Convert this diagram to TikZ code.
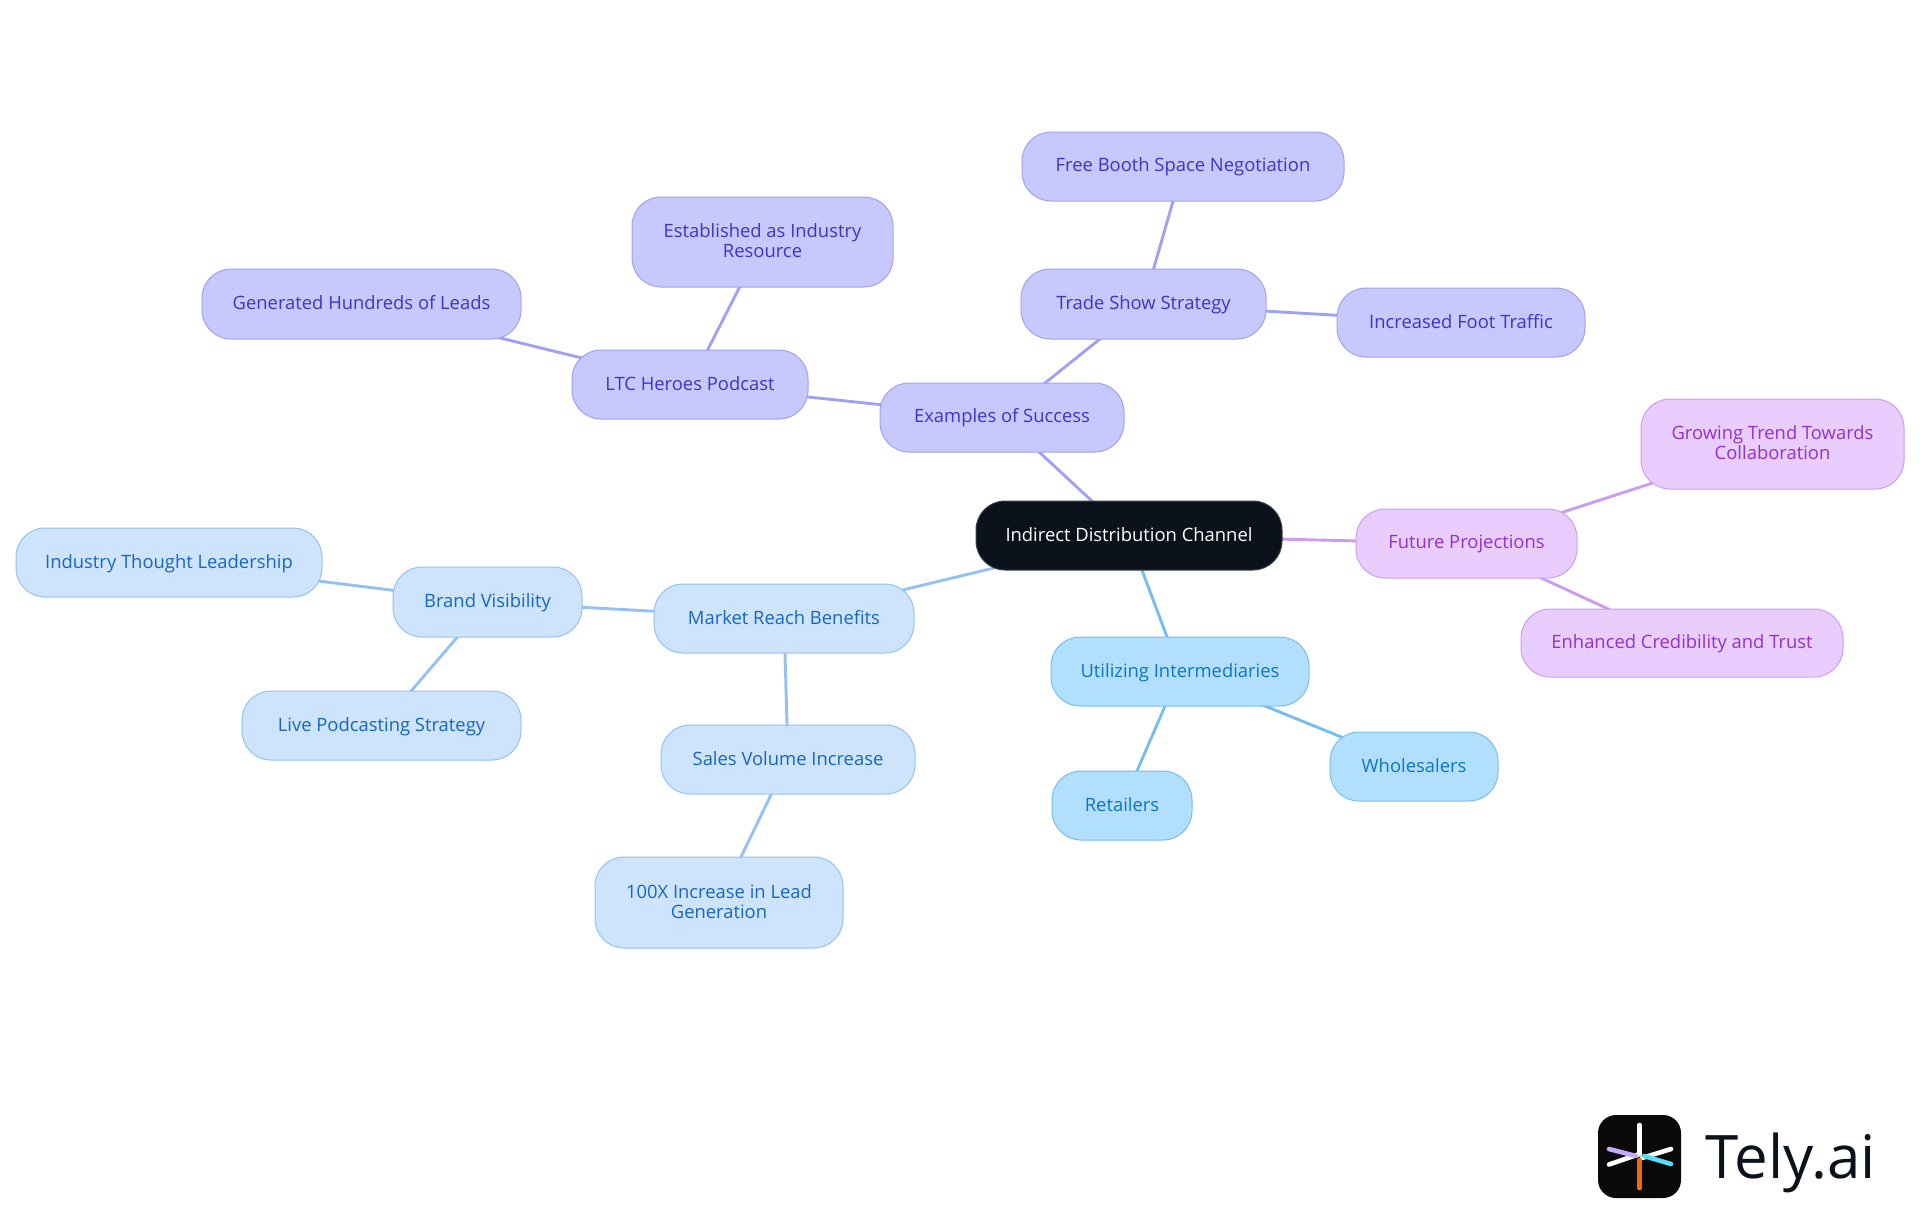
\documentclass[tikz,border=0pt]{standalone}
\usepackage{fontspec}
\setmainfont{Open Sans}
\usetikzlibrary{backgrounds}
\definecolor{ink}{HTML}{0B121B}
\definecolor{pf}{HTML}{C7C8FE}\definecolor{pd}{HTML}{A0A1F2}\definecolor{pt}{HTML}{3A35CC}
\definecolor{bf}{HTML}{CEE3FC}\definecolor{bd}{HTML}{93C2F2}\definecolor{bt}{HTML}{1766C4}
\definecolor{sf}{HTML}{B3DFFF}\definecolor{sd}{HTML}{78BDF0}\definecolor{st}{HTML}{0B76C4}
\definecolor{lf}{HTML}{E9CDFE}\definecolor{ld}{HTML}{CB9DF2}\definecolor{lt}{HTML}{9230D0}
\tikzset{
 x=0.5pt,y=-0.5pt,
 mapnode/.style={draw,line width=0.5pt,rounded corners=14.5pt,inner sep=0pt,align=center,
   font=\fontsize{9.2}{10}\selectfont},
 purplenode/.style={mapnode,fill=pf,draw=pd,text=pt},
 bluenode/.style={mapnode,fill=bf,draw=bd,text=bt},
 skynode/.style={mapnode,fill=sf,draw=sd,text=st},
 lilacnode/.style={mapnode,fill=lf,draw=ld,text=lt},
 rootnode/.style={mapnode,fill=ink,draw=ink!80!white,text=white},
 plink/.style={draw=pd,line width=1.45pt},
 blink/.style={draw=bd,line width=1.45pt},
 slink/.style={draw=sd,line width=1.45pt},
 llink/.style={draw=ld,line width=1.45pt},
 spoke/.style={line width=2.3pt,line cap=round},
}
% name, style, x0, y0, x1, y1, text
\newcommand{\mapbox}[7]{%
 \pgfmathsetmacro{\mbw}{(#5-#3)*0.5}\pgfmathsetmacro{\mbh}{(#6-#4)*0.5}%
 \node[#2,minimum width=\mbw pt,minimum height=\mbh pt] (#1) at ({(#3+#5)/2},{(#4+#6)/2}) {\rule{0pt}{7.7pt}#7\rule[-2pt]{0pt}{2pt}};}
\begin{document}
\begin{tikzpicture}
\useasboundingbox (0,0) rectangle (1920,1215);
\mapbox{root}{rootnode}{976}{501}{1282}{570}{Indirect Distribution Channel}
\mapbox{ex}{purplenode}{880}{383}{1124}{452}{Examples of Success}
\mapbox{ts}{purplenode}{1021}{269}{1266}{339}{Trade Show Strategy}
\mapbox{fb}{purplenode}{1022}{132}{1344}{201}{Free Booth Space Negotiation}
\mapbox{ft}{purplenode}{1337}{288}{1585}{357}{Increased Foot Traffic}
\mapbox{ltc}{purplenode}{572}{350}{808}{419}{LTC Heroes Podcast}
\mapbox{est}{purplenode}{632}{197}{893}{287}{Established as Industry\\Resource}
\mapbox{gen}{purplenode}{202}{269}{521}{339}{Generated Hundreds of Leads}
\mapbox{fut}{lilacnode}{1356}{509}{1577}{578}{Future Projections}
\mapbox{gro}{lilacnode}{1641}{399}{1904}{489}{Growing Trend Towards\\Collaboration}
\mapbox{enh}{lilacnode}{1521}{609}{1843}{677}{Enhanced Credibility and Trust}
\mapbox{uti}{skynode}{1051}{637}{1309}{706}{Utilizing Intermediaries}
\mapbox{who}{skynode}{1330}{732}{1498}{801}{Wholesalers}
\mapbox{ret}{skynode}{1052}{771}{1192}{840}{Retailers}
\mapbox{mkt}{bluenode}{654}{584}{914}{653}{Market Reach Benefits}
\mapbox{brd}{bluenode}{393}{567}{582}{637}{Brand Visibility}
\mapbox{ind}{bluenode}{16}{528}{322}{597}{Industry Thought Leadership}
\mapbox{liv}{bluenode}{242}{691}{521}{760}{Live Podcasting Strategy}
\mapbox{sal}{bluenode}{661}{725}{915}{794}{Sales Volume Increase}
\mapbox{hun}{bluenode}{595}{857}{843}{948}{100X Increase in Lead\\Generation}
\begin{scope}[on background layer]
\draw[plink] (root.center)--(ex.center);
\draw[plink] (ex.center)--(ts.center);
\draw[plink] (ts.center)--(fb.center);
\draw[plink] (ts.center)--(ft.center);
\draw[plink] (ex.center)--(ltc.center);
\draw[plink] (ltc.center)--(est.center);
\draw[plink] (ltc.center)--(gen.center);
\draw[llink] (root.center)--(fut.center);
\draw[llink] (fut.center)--(gro.center);
\draw[llink] (fut.center)--(enh.center);
\draw[slink] (root.center)--(uti.center);
\draw[slink] (uti.center)--(who.center);
\draw[slink] (uti.center)--(ret.center);
\draw[blink] (root.center)--(mkt.center);
\draw[blink] (mkt.center)--(brd.center);
\draw[blink] (brd.center)--(ind.center);
\draw[blink] (brd.center)--(liv.center);
\draw[blink] (mkt.center)--(sal.center);
\draw[blink] (sal.center)--(hun.center);
\end{scope}
% logo
\fill[black!96!white,rounded corners=9pt] (1598,1115) rectangle (1681,1198);
\draw[spoke,white] (1639.5,1125)--(1639.5,1154);
\draw[spoke,white] (1609,1164.5)--(1639.5,1154);
\draw[spoke,white] (1671,1149)--(1642,1158);
\draw[spoke,color={rgb,255:red,196;green,170;blue,250}] (1609,1149)--(1636,1156);
\draw[spoke,color={rgb,255:red,90;green,220;blue,240}] (1671,1164)--(1644,1156);
\draw[spoke,color={rgb,255:red,240;green,105;blue,10}] (1639.5,1160)--(1639.5,1188);
\node[text=ink,font=\fontsize{30}{31}\selectfont,anchor=base west,inner sep=0pt] (logotext) at (1705,1178) {Tely.ai};
\end{tikzpicture}
\end{document}
